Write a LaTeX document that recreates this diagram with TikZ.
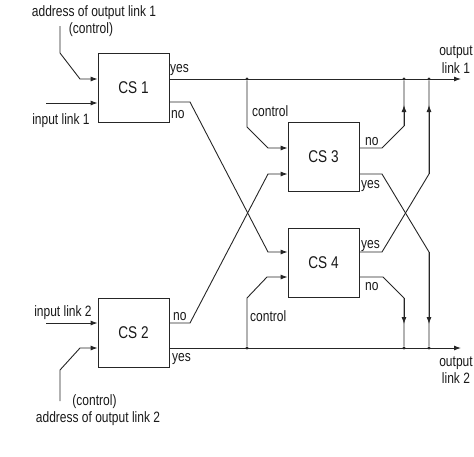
\documentclass[tikz,border=0pt]{standalone}
\usepackage{fontspec}
\setmainfont{Liberation Sans}[FakeStretch=0.8]
\usetikzlibrary{arrows.meta}
\tikzset{
  csbox/.style={draw=black!85, line width=0.8pt, minimum width=71pt, minimum height=69pt, inner sep=0pt, font=\fontsize{17}{20}\selectfont, text=black!90},
  lbl/.style={inner sep=0pt, font=\fontsize{15}{18}\selectfont, text=black!90},
  wire/.style={line width=0.9pt, draw=black!85},
  arr/.style={wire, -{Latex[length=7pt,width=5pt]}},
  jdot/.style={circle, fill=black!85, inner sep=0pt, minimum size=3.2pt}
}
\begin{document}
\begin{tikzpicture}[x=1pt,y=-1pt]
\useasboundingbox (0,0) rectangle (474,456);
% switches
\node[csbox] (cs1) at (133.5,87.5) {CS 1};
\node[csbox] (cs3) at (323.5,157) {CS 3};
\node[csbox] (cs4) at (323.5,263) {CS 4};
\node[csbox] (cs2) at (133.5,333) {CS 2};
% junctions
\node[jdot] (j1) at (247,79) {};
\node[jdot] (j2) at (404,79) {};
\node[jdot] (j3) at (429,79) {};
\node[jdot] (j4) at (247,348) {};
\node[jdot] (j5) at (404,348) {};
\node[jdot] (j6) at (429,348) {};
% free ends
\coordinate (o1) at (461,79);
\coordinate (o2) at (461,348);
\coordinate (a1) at (60,26);
\coordinate (a2) at (60,401);
\coordinate (in1) at (46,103);
\coordinate (in2) at (46,323);
% texts
\node[lbl, anchor=base] (ta1) at (94,16) {address of output link 1};
\node[lbl, anchor=base] (tc1) at (91,33) {(control)};
\node[lbl, anchor=base] (ti1) at (61,124) {input link 1};
\node[lbl, anchor=base] (ti2) at (63,316) {input link 2};
\node[lbl, anchor=base] (tc2) at (94.5,405) {(control)};
\node[lbl, anchor=base] (ta2) at (98,422) {address of output link 2};
\node[lbl, anchor=base west] (y1) at (170,72) {yes};
\node[lbl, anchor=base west] (n1) at (171,118) {no};
\node[lbl, anchor=base west] (n2) at (173,320) {no};
\node[lbl, anchor=base west] (y2) at (172,361) {yes};
\node[lbl, anchor=base west] (n3) at (365,145) {no};
\node[lbl, anchor=base west] (y3) at (361,188) {yes};
\node[lbl, anchor=base west] (y4) at (361,248) {yes};
\node[lbl, anchor=base west] (n4) at (365,290) {no};
\node[lbl, anchor=base west] (k1) at (252,116) {control};
\node[lbl, anchor=base west] (k2) at (250,321) {control};
\node[lbl, anchor=base] (ol1a) at (456,55) {output};
\node[lbl, anchor=base] (ol1b) at (456,73) {link 1};
\node[lbl, anchor=base] (ol2a) at (456,366) {output};
\node[lbl, anchor=base] (ol2b) at (456,383) {link 2};
% inputs to CS1 and CS2
\draw[arr] (a1) -- (60,53) -- (80,79) -- (80,79 -| cs1.west);
\draw[arr] (in1) -- (in1 -| cs1.west);
\draw[arr] (in2) -- (in2 -| cs2.west);
\draw[arr] (a2) -- (60,370) -- (80,348) -- (80,348 -| cs2.west);
% output buses
\draw[arr] (cs1.east |- o1) -- (o1);
\draw[arr] (cs2.east |- o2) -- (o2);
% control of CS3 and CS4
\draw[arr] (j1) -- (247,127) -- (268,148) -- (268,148 -| cs3.west);
\draw[arr] (j4) -- (247,298) -- (267,277) -- (267,277 -| cs4.west);
% crossing links between first and second stage
\draw[arr] (cs1.east |- 0,102) -- (190,102) -- (268,252) -- (268,252 -| cs4.west);
\draw[arr] (cs2.east |- 0,323) -- (190,323) -- (268,174) -- (268,174 -| cs3.west);
% outputs of CS3 and CS4
\draw[wire] (cs3.east |- 0,148) -- (382,148) -- (404,126) -- (j2);
\draw[arr] (404,126) -- (404,105);
\draw[wire] (cs4.east |- 0,277) -- (383,277) -- (404,298) -- (j5);
\draw[arr] (404,298) -- (404,324);
\draw[wire] (cs3.east |- 0,174) -- (382,174) -- (429,252) -- (j6);
\draw[arr] (429,252) -- (429,324);
\draw[wire] (cs4.east |- 0,252) -- (382,252) -- (429,174) -- (j3);
\draw[arr] (429,174) -- (429,105);
\end{tikzpicture}
\end{document}
